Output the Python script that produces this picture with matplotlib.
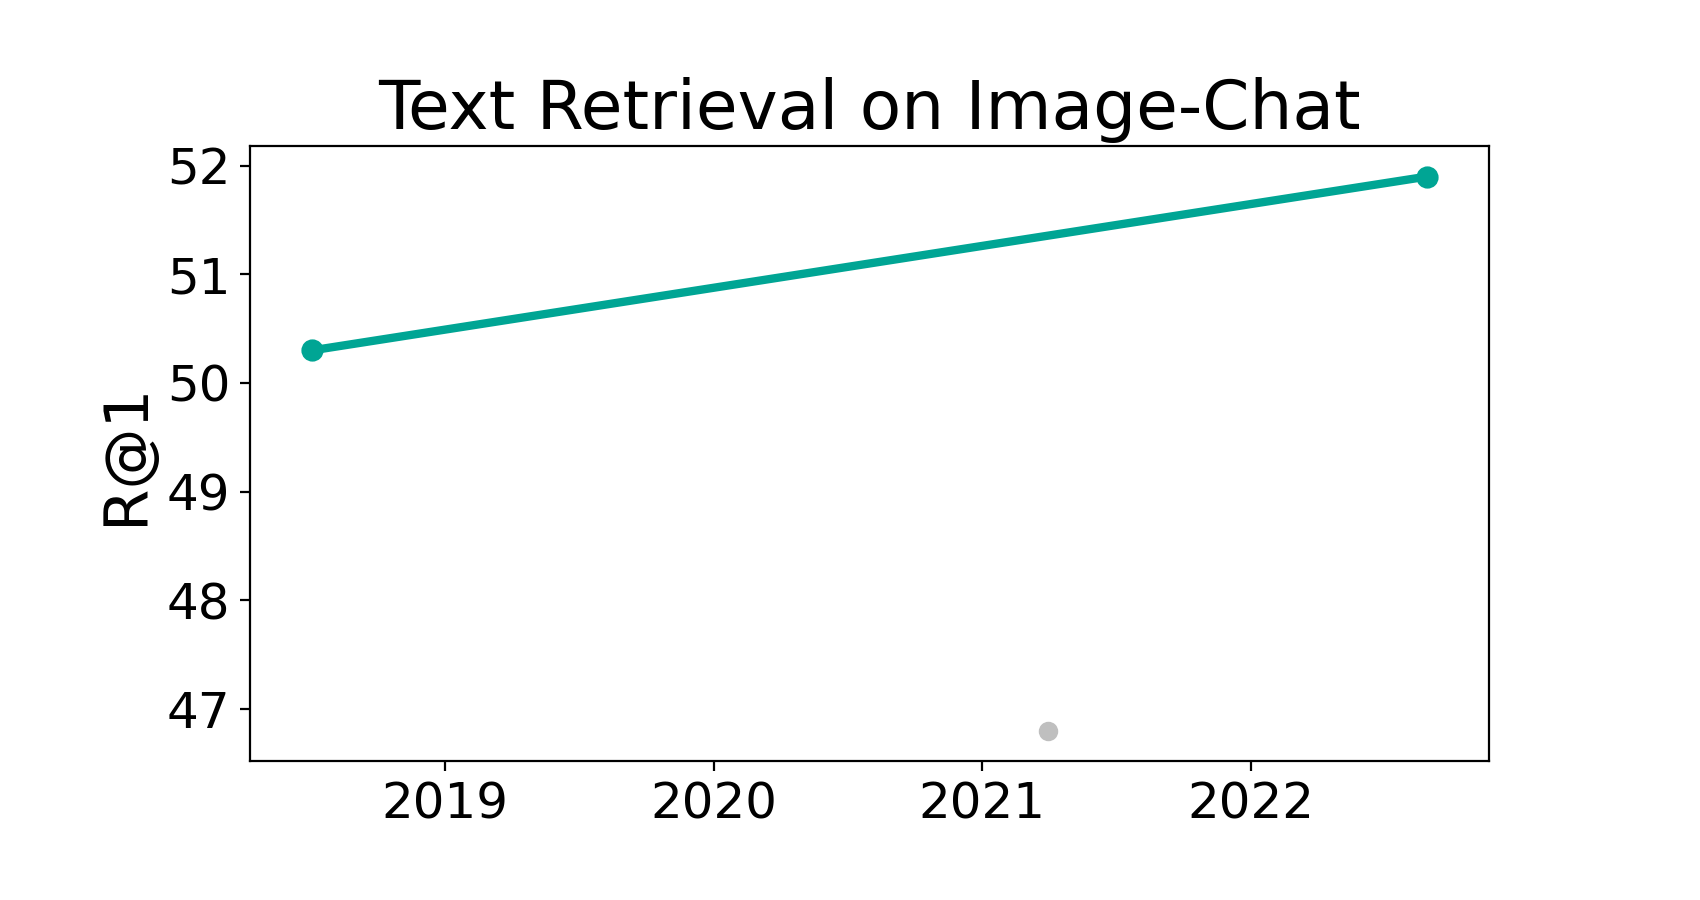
import matplotlib.pyplot as plt

# SOTA points (teal line) and other submissions (gray)
sota_years = [2018.503, 2022.658]
sota_r1 = [50.3, 51.9]
other_years = [2021.245]
other_r1 = [46.8]

fig, ax = plt.subplots(figsize=(8.5, 4.5), dpi=200)
fig.subplots_adjust(left=0.147, right=0.876, bottom=0.154, top=0.838)

ax.plot(other_years, other_r1, 'o', color='#bfbfbf', markersize=6, linestyle='none')
ax.plot(sota_years, sota_r1, marker='o', color='#00a594', linewidth=3, markersize=7)
ax.margins(0.0555)

ax.set_title('Text Retrieval on Image-Chat', fontsize=24.4)
ax.set_ylabel('R@1', fontsize=22)
ax.set_xticks([2019, 2020, 2021, 2022])
ax.tick_params(labelsize=18)

fig.savefig('out.png', dpi=200)
